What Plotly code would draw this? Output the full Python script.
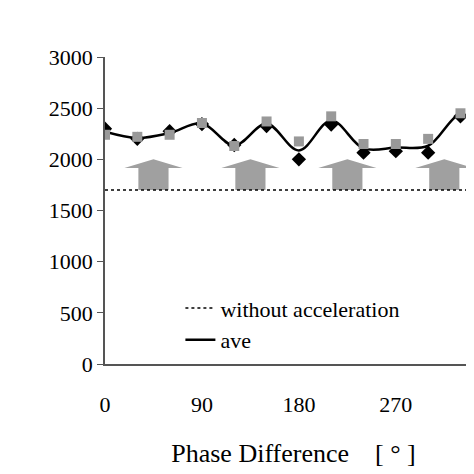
import plotly.graph_objects as go

phase = [0, 30, 60, 90, 120, 150, 180, 210, 240, 270, 300, 330, 360]
squares = [2240, 2220, 2240, 2355, 2130, 2370, 2175, 2420, 2150, 2150, 2200, 2450, 2300]
diamonds = [2300, 2200, 2275, 2345, 2140, 2325, 2000, 2340, 2065, 2080, 2065, 2420, 2300]
ave = [(a + b) / 2 for a, b in zip(squares, diamonds)]
base_level = 1700
arrow_x = [45, 135, 225, 315]

fnt = dict(family="Liberation Serif", size=22, color="black")

fig = go.Figure()
fig.add_trace(go.Scatter(x=[0, 360], y=[base_level, base_level], mode="lines",
                         line=dict(color="black", width=1.5, dash="dot"),
                         name="without acceleration"))
fig.add_trace(go.Scatter(x=phase, y=ave, mode="lines", line_shape="spline",
                         line=dict(color="black", width=2.5), name="ave"))
fig.add_trace(go.Scatter(x=phase, y=diamonds, mode="markers", showlegend=False,
                         marker=dict(symbol="diamond", size=11, color="black")))
fig.add_trace(go.Scatter(x=phase, y=squares, mode="markers", showlegend=False,
                         marker=dict(symbol="square", size=10, color="#999999")))

# gray upward arrows
for cx in arrow_x:
    hw, sw = 27, 14
    path = (f"M {cx-sw} {base_level} L {cx-sw} 1915 L {cx-hw} 1915 L {cx} 2000 "
            f"L {cx+hw} 1915 L {cx+sw} 1915 L {cx+sw} {base_level} Z")
    fig.add_shape(type="path", path=path, fillcolor="#a0a0a0", line_width=0,
                  layer="below", xref="x", yref="y")

fig.update_layout(
    width=474, height=474, margin=dict(l=97, r=0, t=49, b=118),
    plot_bgcolor="white", paper_bgcolor="white", font=fnt,
    legend=dict(x=0.2, y=0.25, xanchor="left", yanchor="top",
                bgcolor="rgba(0,0,0,0)", font=fnt),
)
fig.update_xaxes(range=[0, 350], tickvals=[0, 90, 180, 270, 360], showgrid=False,
                 zeroline=False, showline=True, linecolor="#555", linewidth=1.5,
                 ticks="", ticklabelstandoff=20, automargin=False,
                 title=dict(text="Phase Difference　[ ° ]", standoff=28))
fig.update_yaxes(range=[0, 3000], dtick=500, showgrid=False, zeroline=False,
                 showline=True, linecolor="#555", linewidth=1.5, automargin=False,
                 ticks="outside", ticklen=6, tickcolor="#555")
fig.write_html("out.html")
